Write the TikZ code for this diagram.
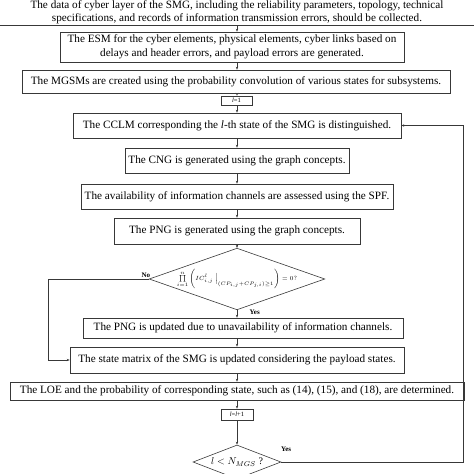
\documentclass[tikz,border=0pt]{standalone}
\usepackage{amsmath}
\usepackage{amssymb}
\usepackage{fontspec}
\setmainfont{Liberation Serif}
\usetikzlibrary{shapes.geometric,arrows.meta}
\definecolor{ln}{rgb}{0.22,0.22,0.22}

\begin{document}
\begin{tikzpicture}[x=1pt, y=-1pt,
					box/.style = {shape=rectangle, draw=ln, line width=0.6pt,
						align=center, inner sep=0pt,
						font=\fontsize{11.2}{13.5}\selectfont},
					small/.style = {box, font=\fontsize{6.5}{7}\selectfont},
					decide/.style = {shape=diamond, draw=ln, line width=0.6pt, inner sep=0pt},
					arr/.style = {draw=ln, line width=0.6pt, -{Stealth[length=3pt,width=2.4pt]}},
					lbl/.style = {font=\fontsize{7}{8}\selectfont\bfseries, inner sep=0.5pt}]
	\useasboundingbox (0,0) rectangle (474,474);
	\clip (0,0) rectangle (474,474);
	\coordinate (mid) at (237,0);
	\coordinate (noway) at (48,0);
	\coordinate (back) at (463,0);
	% boxes of the flow
	\node[box, minimum width=520pt, minimum height=26pt] (data) at (237,12)
		{The data of cyber layer of the SMG, including the reliability parameters, topology, technical\\
		 specifications, and records of information transmission errors, should be collected.};
	\node[box, minimum width=344pt, minimum height=30pt] (esm) at (232,47)
		{The ESM for the cyber elements, physical elements, cyber links based on\\
		 delays and header errors, and payload errors are generated.};
	\node[box, minimum width=428pt, minimum height=23pt] (mgsm) at (236,81.5)
		{The MGSMs are created using the probability convolution of various states for subsystems.};
	\node[small, minimum width=31pt, minimum height=9pt] (init) at (236.5,100.5) {\textit{l}=1};
	\node[box, minimum width=328pt, minimum height=25pt] (cclm) at (237,125.5)
		{The CCLM corresponding the \textit{l}-th state of the SMG is distinguished.};
	\node[box, minimum width=224pt, minimum height=25pt] (cng) at (237,160.5)
		{The CNG is generated using the graph concepts.};
	\node[box, minimum width=312pt, minimum height=25pt] (spf) at (237,196.5)
		{The availability of information channels are assessed using the SPF.};
	\node[box, minimum width=246pt, minimum height=26pt] (png) at (237,231)
		{The PNG is generated using the graph concepts.};
	\node[decide, aspect=2.85, minimum width=154pt, minimum height=54pt,
		font=\fontsize{6.5}{7.5}\selectfont] (cut) at (237,279)
		{$\prod\limits_{i=1}^{n}\left(IC^{l}_{i,j}\;\Big|_{(CP_{i,j}+CP_{j,i})\geq 1}\right)=0?$};
	\node[box, minimum width=320pt, minimum height=20pt] (upd) at (243,328)
		{The PNG is updated due to unavailability of information channels.};
	\node[box, minimum width=334pt, minimum height=26pt] (state) at (237,360)
		{The state matrix of the SMG is updated considering the payload states.};
	\node[box, minimum width=454pt, minimum height=18pt] (loe) at (237,391)
		{The LOE and the probability of corresponding state, such as (14), (15), and (18), are determined.};
	\node[small, minimum width=32pt, minimum height=11pt] (incr) at (237,414.5) {\textit{l}=\textit{l}+1};
	\node[decide, aspect=2.6, minimum width=88pt, minimum height=34pt,
		font=\fontsize{10}{12}\selectfont] (check) at (237,462)
		{$l<N_{MGS}$ ?};
	% connectors
	\foreach \a/\b in {data/esm, esm/mgsm, mgsm/init, init/cclm, cclm/cng,
		cng/spf, spf/png, png/cut, cut/upd, upd/state, state/loe, loe/incr, incr/check}
		\draw[arr] (\a.south -| mid) -- (\b.north -| mid);
	\draw[arr] (cut.west) -- (cut.west -| noway) |- (state.west);
	\draw[arr] (check.east) -- (check.east -| back) |- (cclm.east);
	\node[lbl, anchor=south, xshift=-3pt, yshift=1pt] at (cut.west) {No};
	\node[lbl, anchor=west, xshift=12pt, yshift=-2pt] at (cut.south) {Yes};
	\node[lbl, anchor=south west, xshift=-1pt, yshift=10pt] at (check.east) {Yes};
\end{tikzpicture}
\end{document}
